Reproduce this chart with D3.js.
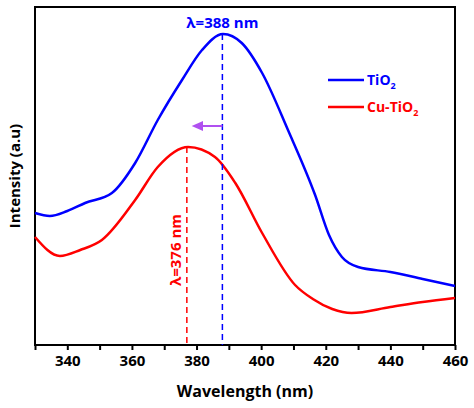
<!DOCTYPE html><html><head><meta charset="utf-8"><script src="https://cdn.jsdelivr.net/npm/d3@7"></script>
<style>body{margin:0;background:#fff}text{font-family:"Open Sans",sans-serif;font-weight:bold}</style></head><body><svg id="c" width="474" height="408"></svg>
<script>
const wl=[330,334.6,340,345.5,353.8,361,368,375.5,381.7,388.2,394,400.3,408.3,416.7,421,425,430,440,450,460];
const tio2=[132,129,134,142,152,182,225,265,295,311,302,272,215,150,110,88,78,73,66,59];
const wlCu=[330,337.7,344,350.7,361,368,377.4,385.7,392,400.3,410.5,416,422,428,440,450,460];
const cu=[108,89,95,105,145,178,198,188,162,112,60,46,36,32,38,43,47];
const xTicks=[340,360,380,400,420,440,460];
const svg=d3.select("#c");
const m={l:35,r:455,t:7,b:345};
const x=d3.scaleLinear().domain([330,460]).range([m.l,m.r]);
const y=d3.scaleLinear().domain([0,338]).range([m.b,m.t]);
const ax=svg.append("g").attr("transform",`translate(0,${m.b})`).call(d3.axisBottom(x).tickValues(d3.range(330,461,10)).tickSize(5).tickFormat(d=>xTicks.includes(d)?d:""));
ax.selectAll("path,line").attr("stroke","#000").attr("stroke-width",2);
ax.selectAll("text").attr("font-size",15).attr("fill","#000").attr("dy","0.85em");
ax.select(".domain").remove();
svg.append("rect").attr("x",m.l).attr("y",m.t).attr("width",m.r-m.l).attr("height",m.b-m.t).attr("fill","none").attr("stroke","#000").attr("stroke-width",2);
const line=d3.line().curve(d3.curveMonotoneX);
svg.append("path").attr("d",line(wl.map((d,i)=>[x(d),y(tio2[i])]))).attr("fill","none").attr("stroke","#0000ff").attr("stroke-width",2.5);
svg.append("path").attr("d",line(wlCu.map((d,i)=>[x(d),y(cu[i])]))).attr("fill","none").attr("stroke","#ff0000").attr("stroke-width",2.5);
svg.append("line").attr("x1",x(388)).attr("x2",x(388)).attr("y1",y(311)).attr("y2",m.b).attr("stroke","#0000ff").attr("stroke-width",1.5).attr("stroke-dasharray","6,4");
svg.append("line").attr("x1",x(377)).attr("x2",x(377)).attr("y1",y(198)).attr("y2",m.b).attr("stroke","#ff0000").attr("stroke-width",1.5).attr("stroke-dasharray","6,4");
svg.append("text").attr("x",x(388)).attr("y",28).attr("text-anchor","middle").attr("font-size",15).attr("fill","#0000ff").text("λ=388 nm");
svg.append("text").attr("transform",`translate(${x(377)-6},250) rotate(-90)`).attr("text-anchor","middle").attr("font-size",15).attr("fill","#ff0000").text("λ=376 nm");
svg.append("line").attr("x1",x(388)).attr("x2",x(381)).attr("y1",126).attr("y2",126).attr("stroke","#b050f0").attr("stroke-width",2);
svg.append("path").attr("d",`M${x(378.5)},126 L${x(382)},121 L${x(382)},131 Z`).attr("fill","#b050f0");
const leg=[["TiO","#0000ff",80],["Cu-TiO","#ff0000",107]];
leg.forEach(([t,c,yy])=>{
 svg.append("line").attr("x1",328).attr("x2",364).attr("y1",yy).attr("y2",yy).attr("stroke",c).attr("stroke-width",2.5);
 const tx=svg.append("text").attr("x",367).attr("y",yy+5).attr("font-size",14).attr("fill",c).text(t);
 tx.append("tspan").attr("font-size",9).attr("dy",4).text("2");
});
svg.append("text").attr("x",x(395)).attr("y",397).attr("text-anchor","middle").attr("font-size",16).attr("fill","#000").text("Wavelength (nm)");
svg.append("text").attr("transform",`translate(20,${(m.t+m.b)/2}) rotate(-90)`).attr("text-anchor","middle").attr("font-size",15).attr("fill","#000").text("Intensity (a.u)");
</script></body></html>
